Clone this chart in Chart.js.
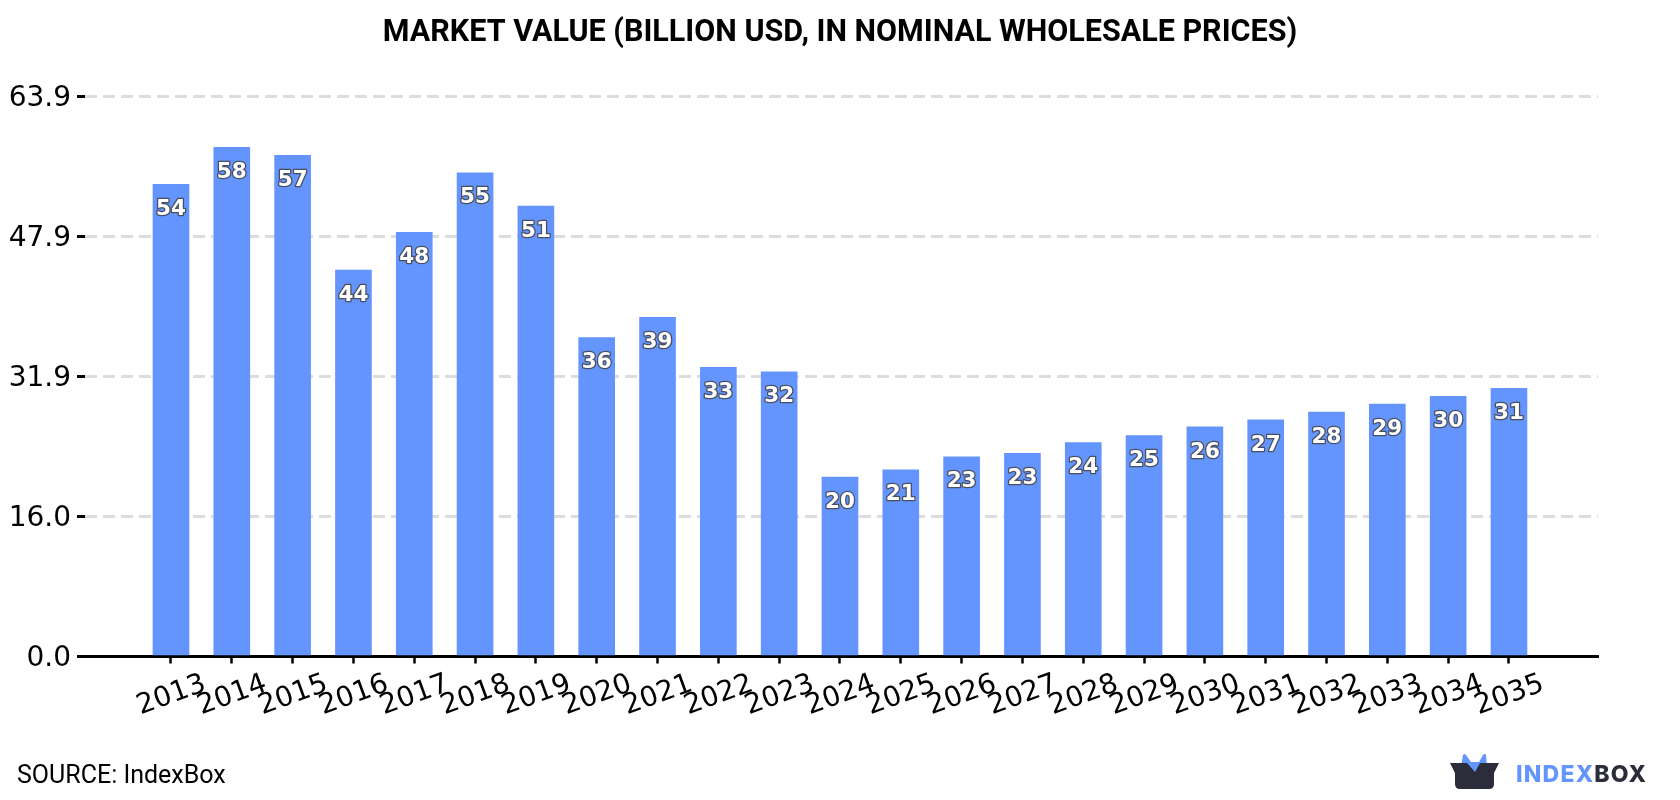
<!DOCTYPE html>
<html>
<head>
<meta charset="utf-8">
<title>Market value</title>
<script src="https://cdn.jsdelivr.net/npm/chart.js@4/dist/chart.umd.min.js"></script>
<style>
  html, body { margin:0; padding:0; background:#fff; width:1680px; height:800px; overflow:hidden; }
  #wrap { position:relative; width:1680px; height:800px; }
  canvas { position:absolute; left:0; top:0; }
  #source { position:absolute; left:17px; top:761px; font:25px Roboto, sans-serif; color:#000; line-height:28px; }
  #logo { position:absolute; left:1450px; top:753px; }
  #brand { position:absolute; left:1516px; top:760px; font:800 23px Inter, sans-serif; letter-spacing:1.2px; line-height:28px; color:#6495ff; }
  #brand span { color:#2b2d3a; }
</style>
</head>
<body>
<div id="wrap">
  <canvas id="chart" width="1680" height="800"></canvas>
  <div id="source">SOURCE: IndexBox</div>
  <svg id="logo" width="50" height="37" viewBox="0 0 50 37">
    <path d="M11 13 L13 2 Q14 0 16 2 L21 9 L29 9 L33 2 Q35 0 36 2 L37 13 L36 20 L12 20 Z" fill="#6495ff"/>
    <path d="M0 10 L17 10 L25 19 L30 10 L49 10 L44 20 L44 31 Q44 36 39 36 L10 36 Q5 36 5 31 L5 20 Z" fill="#2b2d3a"/>
  </svg>
  <div id="brand">INDEX<span>BOX</span></div>
</div>
<script>
// ---------- DATA ----------
const YEARS = [2013,2014,2015,2016,2017,2018,2019,2020,2021,2022,2023,2024,2025,2026,2027,2028,2029,2030,2031,2032,2033,2034,2035];
const VALUES = [53.9,58.1,57.2,44.1,48.4,55.2,51.4,36.4,38.7,33.0,32.49,20.49,21.3,22.8,23.2,24.4,25.2,26.2,27.0,27.9,28.8,29.7,30.6];
const Y_TICKS = [0.0,16.0,31.9,47.9,63.9];
const TITLE = "MARKET VALUE (BILLION USD, IN NOMINAL WHOLESALE PRICES)";

// ---------- VALUE LABELS ----------
// white numbers with a dark outline, hung just under each bar's top
const barLabels = {
  id:"barLabels",
  afterDatasetsDraw(chart){
    const ctx = chart.ctx;
    ctx.save();
    ctx.font = "bold 21.5px 'DejaVu Sans'";
    ctx.textAlign = "center";
    ctx.textBaseline = "middle";
    ctx.lineJoin = "round";
    chart.getDatasetMeta(0).data.forEach((bar,i)=>{
      const txt = String(Math.round(VALUES[i]));
      ctx.lineWidth = 2.6;
      ctx.strokeStyle = "#4a4f5e";
      ctx.strokeText(txt, bar.x, bar.y+25);
      ctx.fillStyle = "#fff";
      ctx.fillText(txt, bar.x, bar.y+25);
    });
    ctx.restore();
  }
};

// ---------- CHART ----------
new Chart(document.getElementById("chart"), {
  type:"bar",
  data:{
    datasets:[{
      data:YEARS.map((y,i)=>({x:y, y:VALUES[i]})),
      backgroundColor:"#6495ff",
      barThickness:36
    }]
  },
  plugins:[barLabels],
  options:{
    responsive:false,
    animation:false,
    plugins:{
      legend:{ display:false },
      tooltip:{ enabled:false },
      title:{
        display:true,
        text:TITLE,
        color:"#000",
        font:{ family:"Roboto", size:30.5, weight:"bold", lineHeight:1.2 },
        padding:{ top:15, bottom:45 }
      }
    },
    scales:{
      x:{
        type:"linear",
        offset:false,
        min:2011.586,
        max:2036.464,
        afterBuildTicks(axis){ axis.ticks = YEARS.map(y=>({value:y})); },
        afterFit(axis){ axis.height = 143.5; },
        border:{ display:true, color:"#000", width:3 },
        grid:{ offset:false, drawOnChartArea:false, drawTicks:true, tickLength:7, tickWidth:2.5, tickColor:"#000" },
        ticks:{
          autoSkip:false,
          minRotation:20,
          maxRotation:20,
          labelOffset:34,
          padding:4,
          color:"#000",
          font:{ family:"DejaVu Sans", size:28 },
          callback:v=>String(v)
        }
      },
      y:{
        min:0,
        max:63.9,
        afterBuildTicks(axis){ axis.ticks = Y_TICKS.map(v=>({value:v})); },
        afterFit(axis){ axis.width = 85; },
        border:{ display:false, dash:[12,6] },
        grid:{
          color:c=>c.tick.value===0 ? "rgba(0,0,0,0)" : "#dddddd",
          lineWidth:3,
          drawTicks:true,
          tickLength:8,
          tickWidth:3,
          tickColor:"#000",
          tickBorderDash:[]
        },
        ticks:{
          padding:6,
          labelOffset:2,
          color:"#000",
          font:{ family:"DejaVu Sans", size:28 },
          callback:v=>v.toFixed(1)
        }
      },
      // empty right-hand axis, only reserves the margin beside the plot
      margin:{
        position:"right",
        afterFit(axis){ axis.width = 82; },
        border:{ display:false },
        grid:{ display:false },
        ticks:{ display:false }
      }
    }
  }
});
</script>
</body>
</html>
